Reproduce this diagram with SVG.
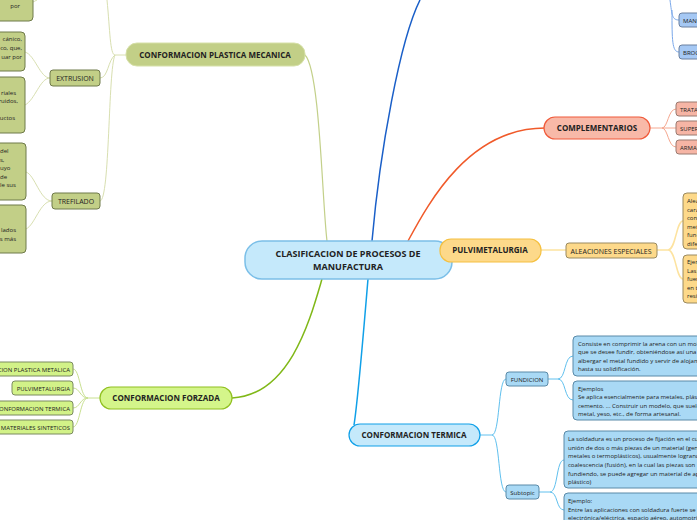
<svg xmlns="http://www.w3.org/2000/svg" width="697" height="520" viewBox="0 0 697 520">
<style>
text{font-family:"Open Sans","Noto Sans","DejaVu Sans",sans-serif;fill:#222}
.b{font-weight:bold}
.ol{fill:#c2cf87;stroke:#6f7a4a;stroke-width:1}
.bl{fill:#a9d9f5;stroke:#5a8aa8;stroke-width:1}
.rd{fill:#f6b5a5;stroke:#9a7a70;stroke-width:1}
.yl{fill:#fdd98a;stroke:#9a8a60;stroke-width:1}
.gr{fill:#d2f288;stroke:#7a8a60;stroke-width:1}
.db{fill:#a5c8f4;stroke:#6a80a0;stroke-width:1}
.c{fill:none}
.s6{font-size:6px}
.s7{font-size:7px}
</style>
<g id="connectors" class="c">
<path d="M305,55 C320,70 322,200 327,241" stroke="#c3d08a" stroke-width="1.2" fill="none"/>
<path d="M107,0 C110,30 110,55 115,55 L126,55" stroke="#d8dfb0" fill="none"/>
<path d="M115,55 C108,60 108,78 100,78 M115,55 C108,70 110,200 100,201" stroke="#d8dfb0" fill="none"/>
<path d="M33,2 L37,0 M50,78 C40,78 35,55 25,52 M50,78 C40,78 35,100 25,105 M52,201 C40,201 35,175 26,172 M52,201 C40,201 35,225 26,229" stroke="#d8dfb0" fill="none"/>
<path d="M372,241 C380,150 400,40 420,0" stroke="#1a5fc8" stroke-width="1.5" fill="none"/>
<path d="M670,0 C672,15 672,20 679,20 M672,10 C672,40 672,52 679,52" stroke="#7aa8ea" fill="none"/>
<path d="M408,241 C430,200 470,128 545,128" stroke="#f05a2a" stroke-width="1.5" fill="none"/>
<path d="M650,128 L662,128 C668,128 668,109 676,109 M662,128 L676,128 M662,128 C668,128 668,147 676,147" stroke="#f5a890" fill="none"/>
<path d="M452,250 L566,250 M657,250 L668,250 C676,250 676,221 683,221 M668,250 C676,250 676,279 683,279" stroke="#fde3a0" stroke-width="1.5" fill="none"/>
<path d="M232,398 C290,395 310,320 322,279" stroke="#80b818" stroke-width="1.5" fill="none"/>
<path d="M100,398 L88,398 C80,398 80,369 73,369 M88,398 C80,398 80,388 73,388 M88,398 C80,398 80,408 73,408 M88,398 C80,398 80,427 73,427" stroke="#c8e090" fill="none"/>
<path d="M368,279 C362,350 358,400 354,425" stroke="#10a0e8" stroke-width="1.5" fill="none"/>
<path d="M480,435 L492,435 C500,435 498,379 506,379 M492,435 C500,435 498,492 506,492 M548,379 L558,379 C566,379 564,356 573,356 M558,379 C566,379 564,400 573,400 M539,492 L550,492 C558,492 556,460 564,460 M550,492 C558,492 556,510 564,510" stroke="#60c0ee" fill="none"/>
</g>
<g id="central"><rect x="245" y="241" width="207" height="38" rx="17" fill="#c5e9fb" stroke="#7bbfe8" stroke-width="1.5"/><text class="b" x="348" y="257" font-size="9" text-anchor="middle">CLASIFICACION DE PROCESOS DE</text><text class="b" x="348" y="270" font-size="9" text-anchor="middle">MANUFACTURA</text></g>
<g id="mecanica"><rect x="126" y="43" width="179" height="23" rx="11" fill="#c2cf87" stroke="#d6e0a8"/><text class="b" x="215" y="58" font-size="8" text-anchor="middle">CONFORMACION PLASTICA MECANICA</text></g>
<g id="extrusion"><rect class="ol" x="50" y="70" width="50" height="16" rx="3"/><text x="75" y="81" class="s7" text-anchor="middle">EXTRUSION</text></g>
<g id="trefilado"><rect class="ol" x="52" y="193" width="48" height="16" rx="3"/><text x="76" y="204" class="s7" text-anchor="middle">TREFILADO</text></g>
<g id="m1"><rect class="ol" x="-10" y="-10" width="43" height="31" rx="4"/><text x="20" y="8" class="s6" text-anchor="end">por</text></g>
<g id="m2"><rect class="ol" x="-10" y="32" width="35" height="39" rx="4"/><text class="s6" text-anchor="end"><tspan x="22" y="41">cánico,</tspan><tspan x="22" y="50">co, que,</tspan><tspan x="22" y="59">uar por</tspan></text></g>
<g id="m3"><rect class="ol" x="-10" y="77" width="35" height="56" rx="4"/><text class="s6" text-anchor="end"><tspan x="16" y="95">riales</tspan><tspan x="18" y="103">ruidos,</tspan><tspan x="15" y="120">uctos</tspan></text></g>
<g id="m4"><rect class="ol" x="-10" y="143" width="36" height="57" rx="4"/><text class="s6"><tspan x="0" y="153">del</tspan><tspan x="0" y="162">s,</tspan><tspan x="0" y="170">uyo</tspan><tspan x="0" y="179">de</tspan><tspan x="0" y="187">le sus</tspan></text></g>
<g id="m5"><rect class="ol" x="-10" y="205" width="36" height="48" rx="4"/><text class="s6" text-anchor="end"><tspan x="16" y="232">lados</tspan><tspan x="16" y="241">s más</tspan></text></g>
<g id="man"><rect class="db" x="679" y="13" width="30" height="14" rx="3"/><text x="683" y="23" class="s6">MANUFACTURA</text></g>
<g id="broc"><rect class="db" x="679" y="45" width="30" height="14" rx="3"/><text x="683" y="55" class="s6">BROCHADO</text></g>
<g id="complementarios"><rect x="544" y="117" width="106" height="22" rx="11" fill="#f8b9a8" stroke="#f05a3a" stroke-width="1.2"/><text class="b" x="597" y="131" font-size="8" text-anchor="middle">COMPLEMENTARIOS</text></g>
<g id="trata"><rect class="rd" x="676" y="102" width="30" height="14" rx="3"/><text x="680" y="112" class="s6">TRATAMIENTOS</text></g>
<g id="super"><rect class="rd" x="676" y="121" width="30" height="14" rx="3"/><text x="680" y="131" class="s6">SUPERFICIALES</text></g>
<g id="arma"><rect class="rd" x="676" y="140" width="30" height="14" rx="3"/><text x="680" y="150" class="s6">ARMADO</text></g>
<g id="pulvi"><rect x="440" y="239" width="101" height="23" rx="11" fill="#fdd98a" stroke="#f5c040" stroke-width="1.2"/><text class="b" x="490" y="253" font-size="8" text-anchor="middle">PULVIMETALURGIA</text></g>
<g id="aleaciones"><rect class="yl" x="566" y="243" width="91" height="15" rx="3"/><text x="611" y="253.5" class="s7" text-anchor="middle">ALEACIONES ESPECIALES</text></g>
<g id="a1"><rect class="yl" x="683" y="193" width="30" height="56" rx="4"/><text class="s6"><tspan x="687" y="203">Aleaciones</tspan><tspan x="687" y="212">caracte</tspan><tspan x="687" y="220">con</tspan><tspan x="687" y="229">metal</tspan><tspan x="687" y="237">fun-</tspan><tspan x="687" y="246">diferentes</tspan></text></g>
<g id="a2"><rect class="yl" x="683" y="255" width="30" height="48" rx="4"/><text class="s6"><tspan x="687" y="264">Ejemplos</tspan><tspan x="687" y="273">Las</tspan><tspan x="687" y="281">fuerza</tspan><tspan x="687" y="290">en t</tspan><tspan x="687" y="298">resi</tspan></text></g>
<g id="forzada"><rect x="100" y="387" width="132" height="22" rx="11" fill="#d4f58a" stroke="#90c020" stroke-width="1.2"/><text class="b" x="166" y="401" font-size="8" text-anchor="middle">CONFORMACION FORZADA</text></g>
<g id="f1"><rect class="gr" x="-20" y="362" width="93" height="14" rx="3"/><text x="70" y="372" class="s6" text-anchor="end">CONFORMACION PLASTICA METALICA</text></g>
<g id="f2"><rect class="gr" x="12" y="381" width="61" height="14" rx="3"/><text x="70" y="391" class="s6" text-anchor="end">PULVIMETALURGIA</text></g>
<g id="f3"><rect class="gr" x="-20" y="401" width="93" height="14" rx="3"/><text x="70" y="411" class="s6" text-anchor="end">CONFORMACION TERMICA</text></g>
<g id="f4"><rect class="gr" x="-20" y="420" width="93" height="14" rx="3"/><text x="70" y="430" class="s6" text-anchor="end">MATERIALES SINTETICOS</text></g>
<g id="termica"><rect x="349" y="424" width="131" height="22" rx="11" fill="#c5e9fb" stroke="#10a0e8" stroke-width="1.2"/><text class="b" x="414" y="438" font-size="8" text-anchor="middle">CONFORMACION TERMICA</text></g>
<g id="fundicion"><rect class="bl" x="506" y="372" width="42" height="14" rx="3"/><text x="527" y="381.5" class="s6" text-anchor="middle">FUNDICION</text></g>
<g id="subtopic"><rect class="bl" x="506" y="485" width="33" height="14" rx="3"/><text x="522.5" y="494.5" class="s6" text-anchor="middle">Subtopic</text></g>
<g id="t1"><rect class="bl" x="573" y="336" width="140" height="40" rx="4"/><text class="s6"><tspan x="578" y="346">Consiste en comprimir la arena con un molde</tspan><tspan x="578" y="354">que se desee fundir, obteniéndose así una</tspan><tspan x="578" y="363">albergar el metal fundido y servir de alojamiento</tspan><tspan x="578" y="371">hasta su solidificación.</tspan></text></g>
<g id="t2"><rect class="bl" x="573" y="381" width="140" height="39" rx="4"/><text class="s6"><tspan x="578" y="391">Ejemplos</tspan><tspan x="578" y="399">Se aplica esencialmente para metales, plásticos</tspan><tspan x="578" y="408">cemento. ... Construir un modelo, que suele</tspan><tspan x="578" y="416">metal, yeso, etc., de forma artesanal.</tspan></text></g>
<g id="t3"><rect class="bl" x="564" y="431" width="150" height="57" rx="4"/><text class="s6"><tspan x="568" y="441">La soldadura es un proceso de fijación en el cual</tspan><tspan x="568" y="450">unión de dos o más piezas de un material (general</tspan><tspan x="568" y="458">metales o termoplásticos), usualmente logrando</tspan><tspan x="568" y="467">coalescencia (fusión), en la cual las piezas son</tspan><tspan x="568" y="476">fundiendo, se puede agregar un material de aporte</tspan><tspan x="568" y="484">plástico)</tspan></text></g>
<g id="t4"><rect class="bl" x="564" y="493" width="150" height="40" rx="4"/><text class="s6"><tspan x="568" y="503">Ejemplo:</tspan><tspan x="568" y="512">Entre las aplicaciones con soldadura fuerte se</tspan><tspan x="568" y="520">electrónica/eléctrica, espacio aéreo, automotriz</tspan></text></g>
</svg>
